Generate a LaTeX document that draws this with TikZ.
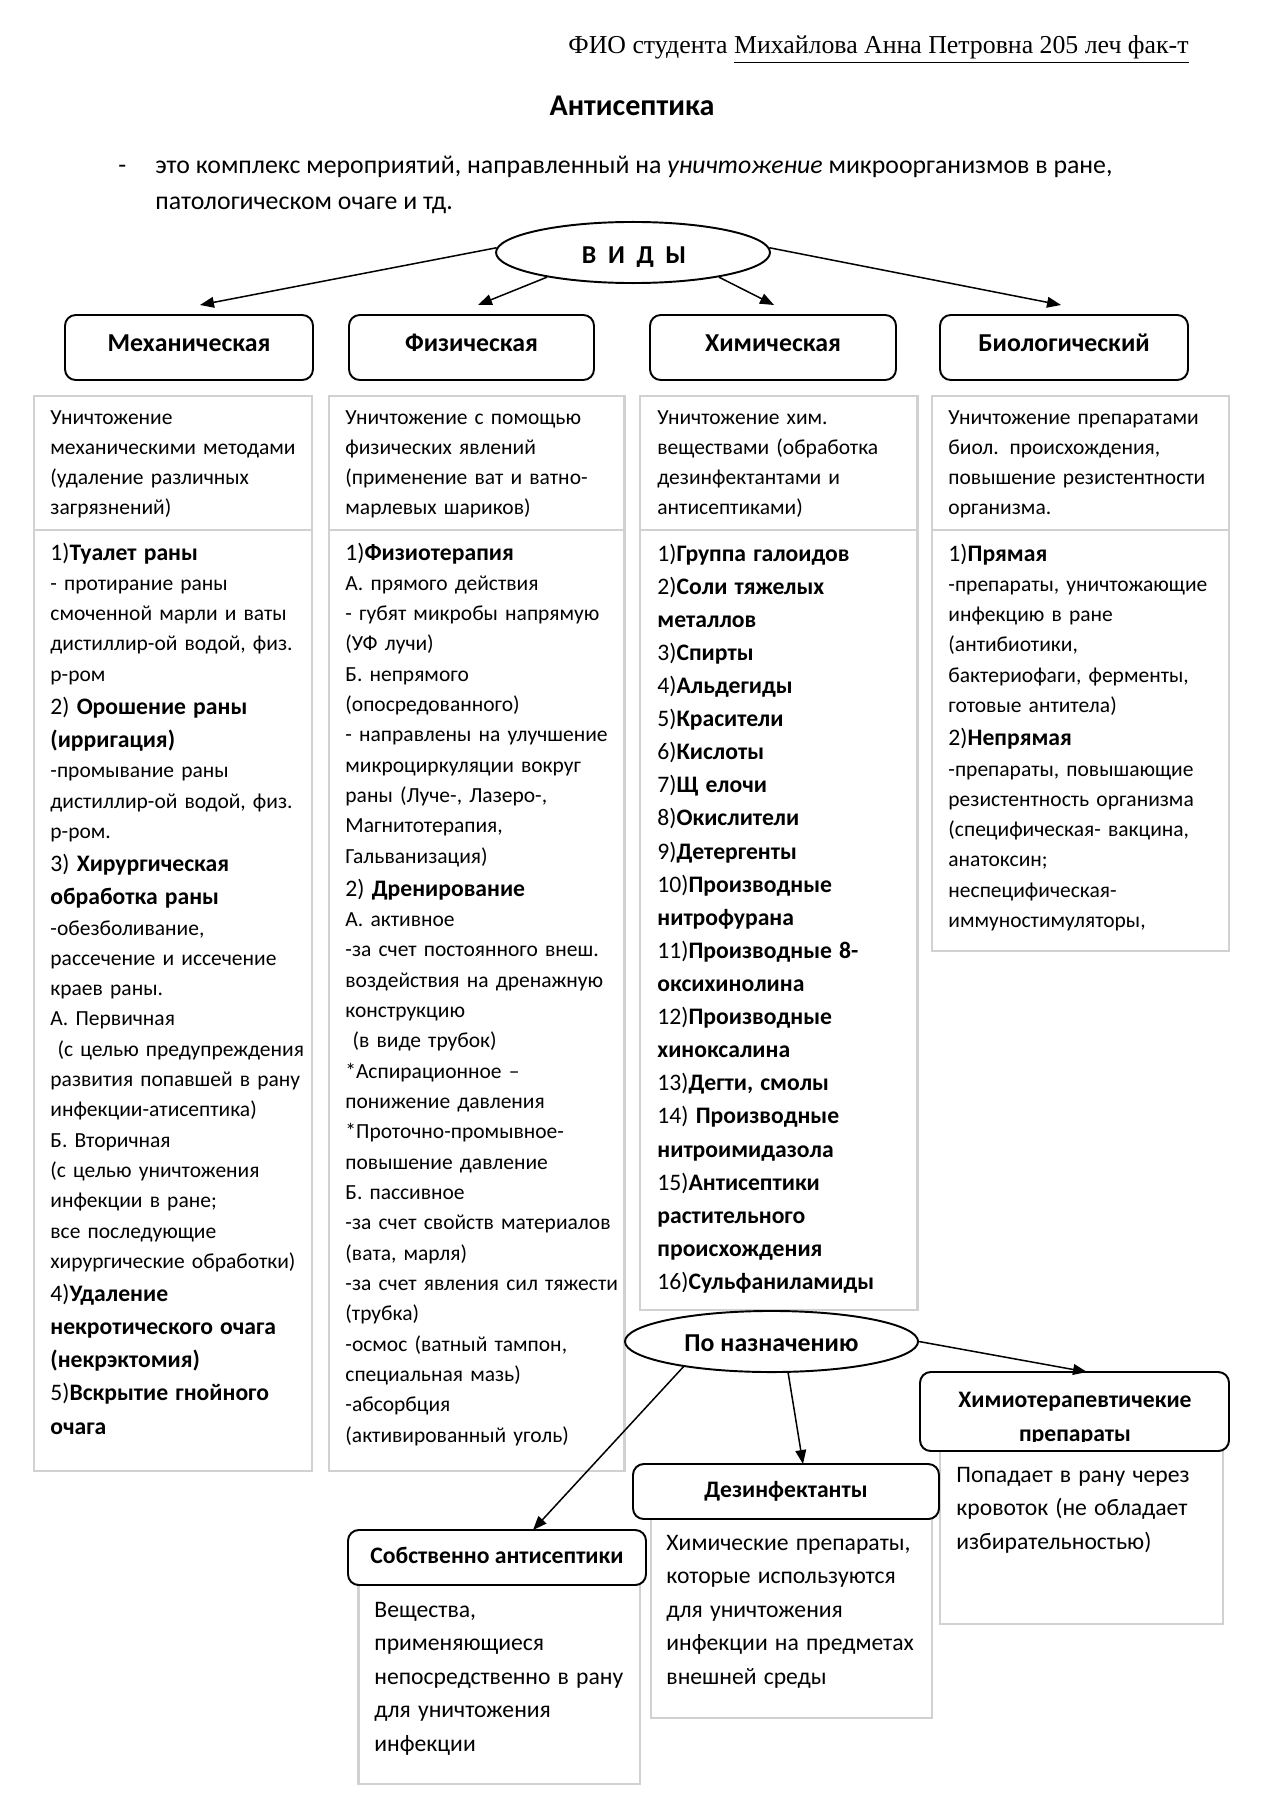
\documentclass[tikz,border=0pt]{standalone}
\usepackage{fontspec}
\setmainfont{Carlito}
\newfontfamily\tnr{Liberation Serif}
\usetikzlibrary{shapes.geometric,arrows.meta,fit}
\newcommand\nl[1]{{\fontsize{10}{14.1}\selectfont #1\par}}
\newcommand\bl[1]{{\fontsize{11}{15.4}\selectfont #1\par}}
\newcommand\ml[1]{{\fontsize{11}{15.6}\selectfont #1\par}}
\tikzset{
  gbox/.style={draw=black!18, line width=1.1pt},
  rbox/.style={draw=black, line width=0.9pt, rounded corners=5pt, fill=white, inner sep=0pt},
  txt/.style={anchor=base west, inner sep=0pt, text width=150pt, align=left},
  ttl/.style={anchor=base, inner sep=0pt, font=\fontsize{12}{14}\selectfont\bfseries},
  ttls/.style={anchor=base, inner sep=0pt, font=\fontsize{11}{14}\selectfont\bfseries},
  conn/.style={line width=0.7pt, -{Triangle[length=6.5pt,width=5pt]}},
  ell/.style={draw=black, line width=0.9pt, ellipse, fill=white, inner sep=0pt},
}
\begin{document}
\begin{tikzpicture}[x=0.46506pt, y=-0.46506pt]
\useasboundingbox (0,0) rectangle (1280,1811);
\fill[white] (0,0) rectangle (1280,1811);

% header
\node[anchor=base east, inner sep=0pt, font=\tnr\fontsize{12}{14}\selectfont] (hdr) at (1189,54) {ФИО студента \underline{Михайлова Анна Петровна 205 леч фак-т}};
\node[anchor=base, inner sep=0pt, font=\fontsize{14}{16}\selectfont\bfseries] (title) at (632,116) {Антисептика};
\node[anchor=base west, inner sep=0pt, font=\fontsize{12}{15}\selectfont] (dash) at (118,174) {-};
\node[anchor=base west, inner sep=0pt, font=\fontsize{12}{15}\selectfont] (def1) at (155,174) {это комплекс мероприятий, направленный на \textit{уничтожение} микроорганизмов в ране,};
\node[anchor=base west, inner sep=0pt, font=\fontsize{12}{15}\selectfont] (def2) at (155,210) {патологическом очаге и тд.};

% gray boxes of the columns
\draw[gbox] (34,396) rectangle (312,530);
\draw[gbox] (34,530) rectangle (312,1471);
\draw[gbox] (329,396) rectangle (624.5,530);
\draw[gbox] (329,530) rectangle (624.5,1471);
\draw[gbox] (640,396) rectangle (917.5,530);
\draw[gbox] (640,530) rectangle (917.5,1310);
\draw[gbox] (932,396) rectangle (1229,530);
\draw[gbox] (932,530) rectangle (1229,951);
% gray boxes at the bottom
\draw[gbox] (358.5,1585) rectangle (640,1784);
\draw[gbox] (651,1519) rectangle (932,1718);
\draw[gbox] (940,1451) rectangle (1223,1624);

% ellipse VIDY
\node[ell, minimum width=127.4pt, minimum height=28.4pt] (vidy) at (633,252.5) {};
\node[anchor=base, inner sep=0pt, font=\fontsize{12}{14}\selectfont\bfseries] (vidyT) at (634,264) {В\ \ И\ \ Д\ \ Ы};

% top rounded boxes
\node[rbox, fit={(65,315) (313,380)}] (mech) {};
\node[rbox, fit={(349,315) (594,380)}] (phys) {};
\node[rbox, fit={(650,315) (896,380)}] (chem) {};
\node[rbox, fit={(940,315) (1188,380)}] (bio) {};
\node[ttl] (mechT) at (189,351) {Механическая};
\node[ttl] (physT) at (471.5,351) {Физическая};
\node[ttl] (chemT) at (773,351) {Химическая};
\node[ttl] (bioT) at (1064,351) {Биологический};

\coordinate (tm) at (200,305);
\coordinate (tp) at (478,305);
\coordinate (tc) at (774,305);
\coordinate (tb) at (1061,305);
\draw[conn] (vidy.178) -- (tm);
\draw[conn] (vidy.196) -- (tp);
\draw[conn] (vidy.344) -- (tc);
\draw[conn] (vidy.2) -- (tb);

% column texts
\node[txt] (h1) at (50,424) {\nl{Уничтожение}\nl{механическими методами}\nl{(удаление различных}\nl{загрязнений)}};
\node[txt] (h2) at (345,424) {\nl{Уничтожение с помощью}\nl{физических явлений}\nl{(применение ват и ватно-}\nl{марлевых шариков)}};
\node[txt] (h3) at (657,424) {\nl{Уничтожение хим.}\nl{веществами (обработка}\nl{дезинфектантами и}\nl{антисептиками)}};
\node[txt] (h4) at (948,424) {\nl{Уничтожение препаратами}\nl{биол. происхождения,}\nl{повышение резистентности}\nl{организма.}};

\node[txt] (l1) at (50,560) {%
\bl{1)\textbf{Туалет раны}}
\nl{- протирание раны}
\nl{смоченной марли и ваты}
\nl{дистиллир-ой водой, физ.}
\nl{р-ром}
\bl{2) \textbf{Орошение раны}}
\bl{\textbf{(ирригация)}}
\nl{-промывание раны}
\nl{дистиллир-ой водой, физ.}
\nl{р-ром.}
\bl{3) \textbf{Хирургическая}}
\bl{\textbf{обработка раны}}
\nl{-обезболивание,}
\nl{рассечение и иссечение}
\nl{краев раны.}
\nl{А. Первичная}
\nl{\ (с целью предупреждения}
\nl{развития попавшей в рану}
\nl{инфекции-атисептика)}
\nl{Б. Вторичная}
\nl{(с целью уничтожения}
\nl{инфекции в ране;}
\nl{все последующие}
\nl{хирургические обработки)}
\bl{4)\textbf{Удаление}}
\bl{\textbf{некротического очага}}
\bl{\textbf{(некрэктомия)}}
\bl{5)\textbf{Вскрытие гнойного}}
\bl{\textbf{очага}}};

\node[txt] (l2) at (345,560) {%
\bl{1)\textbf{Физиотерапия}}
\nl{А. прямого действия}
\nl{- губят микробы напрямую}
\nl{(УФ лучи)}
\nl{Б. непрямого}
\nl{(опосредованного)}
\nl{- направлены на улучшение}
\nl{микроциркуляции вокруг}
\nl{раны (Луче-, Лазеро-,}
\nl{Магнитотерапия,}
\nl{Гальванизация)}
\bl{2) \textbf{Дренирование}}
\nl{А. активное}
\nl{-за счет постоянного внеш.}
\nl{воздействия на дренажную}
\nl{конструкцию}
\nl{\ (в виде трубок)}
\nl{*Аспирационное –}
\nl{понижение давления}
\nl{*Проточно-промывное-}
\nl{повышение давление}
\nl{Б. пассивное}
\nl{-за счет свойств материалов}
\nl{(вата, марля)}
\nl{-за счет явления сил тяжести}
\nl{(трубка)}
\nl{-осмос (ватный тампон,}
\nl{специальная мазь)}
\nl{-абсорбция}
\nl{(активированный уголь)}};

\node[txt] (l3) at (657,561) {%
\bl{1)\textbf{Группа галоидов}}
\bl{2)\textbf{Соли тяжелых}}
\bl{\textbf{металлов}}
\bl{3)\textbf{Спирты}}
\bl{4)\textbf{Альдегиды}}
\bl{5)\textbf{Красители}}
\bl{6)\textbf{Кислоты}}
\bl{7)\textbf{Щ елочи}}
\bl{8)\textbf{Окислители}}
\bl{9)\textbf{Детергенты}}
\bl{10)\textbf{Производные}}
\bl{\textbf{нитрофурана}}
\bl{11)\textbf{Производные 8-}}
\bl{\textbf{оксихинолина}}
\bl{12)\textbf{Производные}}
\bl{\textbf{хиноксалина}}
\bl{13)\textbf{Дегти, смолы}}
\bl{14) \textbf{Производные}}
\bl{\textbf{нитроимидазола}}
\bl{15)\textbf{Антисептики}}
\bl{\textbf{растительного}}
\bl{\textbf{происхождения}}
\bl{16)\textbf{Сульфаниламиды}}};

\node[txt] (l4) at (948,561) {%
\bl{1)\textbf{Прямая}}
\nl{-препараты, уничтожающие}
\nl{инфекцию в ране}
\nl{(антибиотики,}
\nl{бактериофаги, ферменты,}
\nl{готовые антитела)}
\bl{2)\textbf{Непрямая}}
\nl{-препараты, повышающие}
\nl{резистентность организма}
\nl{(специфическая- вакцина,}
\nl{анатоксин;}
\nl{неспецифическая-}
\nl{иммуностимуляторы,}};

% purpose ellipse
\node[ell, minimum width=136.3pt, minimum height=28.4pt] (nazn) at (771.5,1341.5) {};
\node[anchor=base, inner sep=0pt, font=\fontsize{12}{14}\selectfont\bfseries] (naznT) at (771.5,1351) {По назначению};

% bottom rounded boxes
\node[rbox, fit={(920,1372) (1229,1451)}] (chemo) {};
\node[rbox, fit={(633,1464) (939,1519)}] (dezinf) {};
\node[rbox, fit={(348,1530) (646,1585)}] (sobst) {};
\begin{scope}
\clip (925,1376) rectangle (1225,1441);
\node[ttls] (chemoT1) at (1075,1407) {Химиотерапевтичекие};
\node[ttls] (chemoT2) at (1075,1441) {препараты};
\end{scope}
\node[ttls] (dezinfT) at (786,1497) {Дезинфектанты};
\node[ttls] (sobstT) at (497,1563) {Собственно антисептики};

\coordinate (tch) at (1087,1372);
\coordinate (tdz) at (803,1464);
\coordinate (tsb) at (533,1530);
\draw[conn] (nazn.east) -- (tch);
\draw[conn] (nazn.298) -- (tdz);
\draw[conn] (nazn.196) -- (tsb);

% bottom texts
\node[txt] (s1) at (374,1617) {\ml{Вещества,}\ml{применяющиеся}\ml{непосредственно в рану}\ml{для уничтожения}\ml{инфекции}};
\node[txt] (d1) at (666,1550) {\ml{Химические препараты,}\ml{которые используются}\ml{для уничтожения}\ml{инфекции на предметах}\ml{внешней среды}};
\node[txt] (c1) at (956,1482) {\ml{Попадает в рану через}\ml{кровоток (не обладает}\ml{избирательностью)}};
\end{tikzpicture}
\end{document}
